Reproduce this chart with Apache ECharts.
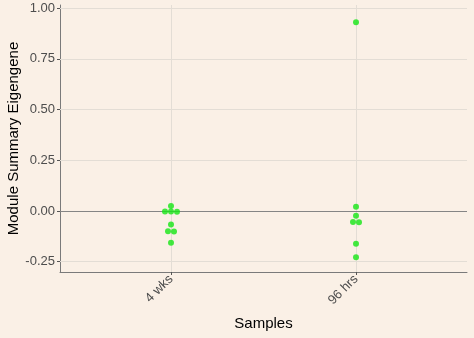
<!DOCTYPE html>
<html>
<head>
<meta charset="utf-8">
<script src="https://cdn.jsdelivr.net/npm/echarts@6/dist/echarts.min.js"></script>
<style>
  html, body { margin: 0; padding: 0; background: #faf0e6; }
  #chart { width: 474px; height: 338px; }
</style>
</head>
<body>
<div id="chart"></div>
<script>
// samples (x categories)
const categories = ['4 wks', '96 hrs'];
// module eigengene values per sample group
const wks4Values = [0.025, -0.002, -0.003, -0.004, -0.067, -0.100, -0.101, -0.156];
const hrs96Values = [0.930, 0.021, -0.023, -0.054, -0.055, -0.161, -0.228];
// tick labels
const yTicks = [-0.25, 0, 0.25, 0.5, 0.75, 1.0];
const xTicks = [1, 2];

const font = 'Liberation Sans, Arial, Helvetica, sans-serif';
const dotSize = 6;

// simple beeswarm-ish dodge: points with (nearly) equal values sit side by side
function dodge(values, x) {
  const sorted = values.slice().sort((a, b) => b - a);
  const rows = [];
  sorted.forEach(v => {
    const last = rows[rows.length - 1];
    if (last && Math.abs(last[last.length - 1] - v) < 0.012) last.push(v);
    else rows.push([v]);
  });
  const out = [];
  rows.forEach(row => {
    row.forEach((v, i) => {
      out.push({ value: [x, v], symbolOffset: [(i - (row.length - 1) / 2) * dotSize, 0] });
    });
  });
  return out;
}

const points = dodge(wks4Values, 1).concat(dodge(hrs96Values, 2));

const chart = echarts.init(document.getElementById('chart'), null, { renderer: 'canvas' });

chart.setOption({
  backgroundColor: '#faf0e6',
  animation: false,
  grid: { left: 60, right: 7, top: 5, bottom: 66, containLabel: false, outerBoundsMode: 'none' },
  xAxis: {
    type: 'value',
    min: 0.4,
    max: 2.6,
    name: 'Samples',
    nameLocation: 'middle',
    nameGap: 44,
    nameMoveOverlap: false,
    nameTextStyle: { color: '#000', fontSize: 15, fontFamily: font },
    axisLine: { show: true, onZero: false, lineStyle: { color: '#7a7a7a', width: 1 } },
    axisTick: { show: true, length: 3, customValues: xTicks, lineStyle: { color: '#555' } },
    axisLabel: {
      customValues: xTicks,
      rotate: 45,
      margin: 5,
      color: '#4d4d4d',
      fontSize: 13,
      fontFamily: font,
      formatter: v => categories[Math.round(v) - 1]
    },
    splitLine: { show: false }
  },
  yAxis: {
    type: 'value',
    min: -0.3005,
    max: 1.0148,
    name: 'Module Summary Eigengene',
    nameLocation: 'middle',
    nameGap: 39,
    nameMoveOverlap: false,
    nameTextStyle: { color: '#000', fontSize: 15, fontFamily: font },
    axisLine: { show: true, onZero: false, lineStyle: { color: '#7a7a7a', width: 1 } },
    axisTick: { show: true, length: 3, customValues: yTicks, lineStyle: { color: '#555' } },
    axisLabel: {
      customValues: yTicks,
      margin: 5,
      color: '#4d4d4d',
      fontSize: 13,
      fontFamily: font,
      formatter: v => v.toFixed(2)
    },
    splitLine: { show: false }
  },
  series: [
    {
      // grid lines drawn through the axes' own scales
      type: 'line',
      data: [],
      silent: true,
      markLine: {
        symbol: 'none',
        silent: true,
        label: { show: false },
        lineStyle: { color: '#e3ddd5', width: 1, type: 'solid' },
        data: yTicks.map(v => ({ yAxis: v })).concat(xTicks.map(v => ({ xAxis: v })))
      }
    },
    {
      type: 'line',
      data: [],
      silent: true,
      markLine: {
        symbol: 'none',
        silent: true,
        label: { show: false },
        lineStyle: { color: '#858585', width: 1, type: 'solid' },
        data: [{ yAxis: 0 }]
      }
    },
    {
      type: 'scatter',
      symbol: 'circle',
      symbolSize: dotSize,
      itemStyle: { color: '#14e614' },
      data: points,
      z: 5
    }
  ]
});
</script>
</body>
</html>
